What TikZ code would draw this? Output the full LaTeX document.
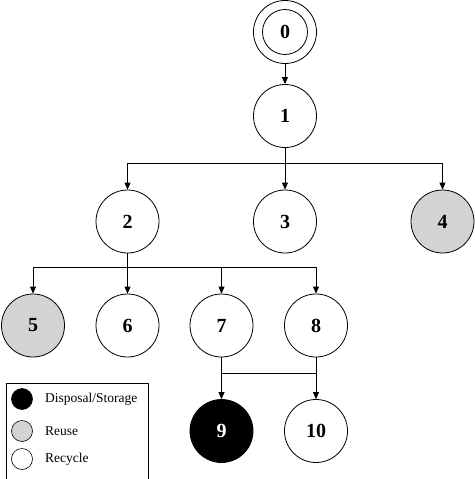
\documentclass[tikz,border=0pt]{standalone}
\usepackage{fontspec}
\setmainfont{Liberation Serif}
\usetikzlibrary{arrows.meta}
\definecolor{reusegray}{RGB}{211,211,211}
\tikzset{
  st/.style={circle,draw=black,line width=0.8pt,minimum size=63pt,inner sep=0pt,font=\fontsize{20}{20}\selectfont\bfseries},
  reuse/.style={st,fill=reusegray},
  disp/.style={st,fill=black,text=white},
  arr/.style={line width=0.8pt,-{Triangle[length=7pt,width=6pt]}},
  ln/.style={line width=0.8pt},
  lgc/.style={circle,draw=black,line width=0.6pt,minimum size=21pt,inner sep=0pt},
  lgt/.style={anchor=west,font=\fontsize{13.5}{13.5}\selectfont,inner sep=0pt}
}
\begin{document}
\begin{tikzpicture}[x=1pt,y=-1pt]
\useasboundingbox (0,0) rectangle (474,479);
\node[st] (n0) at (285,32) {0};
\draw[ln] (n0.center) circle[radius=22.5];
\node[st] (n1) at (285,116) {1};
\node[st] (n2) at (127.5,221.5) {2};
\node[st] (n3) at (285,221.5) {3};
\node[reuse] (n4) at (442.5,221.5) {4};
\node[reuse] (n5) at (33,325.5) {5};
\node[st] (n6) at (127.5,325.5) {6};
\node[st] (n7) at (221.5,325.5) {7};
\node[st] (n8) at (316,325.5) {8};
\node[disp] (n9) at (221.5,431) {9};
\node[st] (n10) at (316,431) {10};
\coordinate (j1) at (285,163);
\coordinate (j2) at (127.5,267);
\coordinate (j7) at (221.5,373);
\coordinate (j8) at (316,373);
\draw[arr] (n0) -- (n1);
\draw[arr] (n1) -- (n3);
\draw[arr] (j1) -| (n2);
\draw[arr] (j1) -| (n4);
\draw[arr] (n2) -- (n6);
\draw[arr] (j2) -| (n5);
\draw[arr] (j2) -| (n7);
\draw[arr] (j2) -| (n8);
\draw[arr] (n7) -- (n9);
\draw[arr] (n8) -- (n10);
\draw[ln] (j7) -- (j8);
% legend
\node[draw=black,line width=0.6pt,minimum width=142pt,minimum height=100pt,anchor=north west,inner sep=0pt] (lg) at (6,383) {};
\node[lgc,fill=black] (l1) at (22,399) {};
\node[lgc,fill=reusegray] (l2) at (22,431) {};
\node[lgc] (l3) at (22,459) {};
\node[lgt] (t1) at (45,399) {Disposal/Storage};
\node[lgt] (t2) at (45,431) {Reuse};
\node[lgt] (t3) at (45,459) {Recycle};
\end{tikzpicture}
\end{document}
